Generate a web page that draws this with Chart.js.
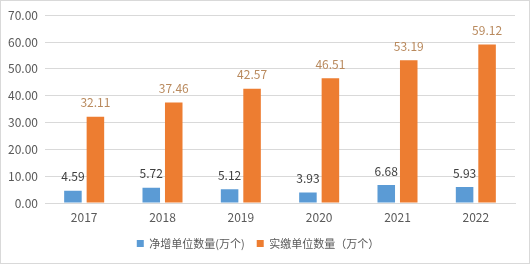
<!DOCTYPE html>
<html>
<head>
<meta charset="utf-8">
<script src="https://cdn.jsdelivr.net/npm/chart.js@4"></script>
<style>
  html, body { margin: 0; padding: 0; background: #fff; }
  #box { width: 530px; height: 264px; box-sizing: border-box; border: 1px solid #d9d9d9; background: #fff; }
</style>
</head>
<body>
<div id="box"><canvas id="chart" width="528" height="262"></canvas></div>
<script>
const years = ["2017", "2018", "2019", "2020", "2021", "2022"];
const netAdded = [4.59, 5.72, 5.12, 3.93, 6.68, 5.93];
const paying = [32.11, 37.46, 42.57, 46.51, 53.19, 59.12];
const seriesNames = ["净增单位数量(万个)", "实缴单位数量（万个）"];
const labelColors = ["#404040", "#b98a5e"];

const FONT = "'Noto Sans CJK SC', 'Noto Sans', sans-serif";

// draws the value above each bar
const valueLabels = {
  id: "valueLabels",
  afterDatasetsDraw(chart) {
    const ctx = chart.ctx;
    ctx.save();
    ctx.font = "12px " + FONT;
    ctx.textAlign = "center";
    ctx.textBaseline = "middle";
    chart.data.datasets.forEach((ds, i) => {
      ctx.fillStyle = labelColors[i];
      chart.getDatasetMeta(i).data.forEach((bar, j) => {
        ctx.fillText(ds.data[j].toFixed(2), bar.x, bar.y - 14);
      });
    });
    ctx.restore();
  }
};

new Chart(document.getElementById("chart"), {
  type: "bar",
  data: {
    labels: years,
    datasets: [
      { label: seriesNames[0], data: netAdded, backgroundColor: "#5b9bd5" },
      { label: seriesNames[1], data: paying, backgroundColor: "#ed7d31" }
    ]
  },
  options: {
    responsive: false,
    animation: false,
    categoryPercentage: 0.574,
    barPercentage: 0.78,
    layout: { padding: { top: 14, right: 14, left: 0, bottom: 4 } },
    scales: {
      x: {
        afterFit(scale) { scale.height = 23; },
        grid: { display: false, drawTicks: false },
        border: { display: true, color: "#d9d9d9" },
        ticks: { color: "#595959", font: { size: 12, family: FONT }, padding: 7 }
      },
      y: {
        min: 0,
        max: 70,
        afterFit(scale) { scale.width = 44; },
        grid: { color: "#d9d9d9", drawTicks: false },
        border: { display: false },
        ticks: {
          stepSize: 10,
          color: "#595959",
          font: { size: 12, family: FONT },
          padding: 7,
          callback: v => v.toFixed(2)
        }
      }
    },
    plugins: {
      tooltip: { enabled: false },
      legend: {
        position: "bottom",
        labels: {
          color: "#595959",
          font: { size: 11, family: FONT },
          boxWidth: 7,
          boxHeight: 7,
          padding: 12
        }
      }
    }
  },
  plugins: [valueLabels]
});
</script>
</body>
</html>
